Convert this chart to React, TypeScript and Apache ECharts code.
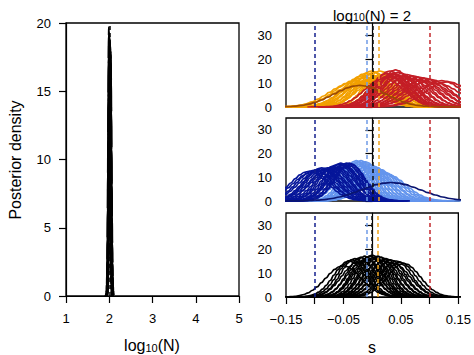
import React, { useEffect, useRef } from 'react';
import * as echarts from 'echarts';

const FONT = '"Liberation Sans", Arial, Helvetica, sans-serif';

// Shared bell profile of a posterior density (offset in sd units, relative height)
const PROFILE_Z = [-4, -3.75, -3.5, -3.25, -3, -2.75, -2.5, -2.25, -2, -1.75, -1.5, -1.25, -1, -0.75, -0.5, -0.25, 0,
  0.25, 0.5, 0.75, 1, 1.25, 1.5, 1.75, 2, 2.25, 2.5, 2.75, 3, 3.25, 3.5, 3.75, 4];
const PROFILE_H = [0.0003, 0.0009, 0.0022, 0.0051, 0.0111, 0.0228, 0.0439, 0.0796, 0.1353, 0.2163, 0.3247, 0.4578, 0.6065, 0.7548, 0.8825, 0.9692, 1,
  0.9692, 0.8825, 0.7548, 0.6065, 0.4578, 0.3247, 0.2163, 0.1353, 0.0796, 0.0439, 0.0228, 0.0111, 0.0051, 0.0022, 0.0009, 0.0003];

// Left panel: posterior of log10(N)
const LEFT_CENTERS = [1.99, 1.995, 2.0, 2.005, 2.008, 2.012, 2.015, 2.018, 2.022, 2.026, 2.03, 2.035];
const LEFT_PEAKS = [19.7, 19.3, 18.9, 19.1, 18.5, 18.8, 18.2, 18.6, 17.9, 18.3, 17.7, 17.9];
const TRUE_LOGN = [2];

// Top right: log10(N) = 2
const TOP_ORANGE_CENTERS = [-0.035, -0.03, -0.025, -0.02, -0.018, -0.015, -0.012, -0.01, -0.008, -0.005, -0.002, 0, 0.003, 0.006, 0.01, 0.013, 0.017, 0.02, 0.025, 0.03];
const TOP_ORANGE_PEAKS = [10, 11, 9.5, 12, 13, 10.5, 14, 12.5, 11, 13.5, 15, 12, 14.5, 13, 11.5, 15, 13.5, 12, 14, 12.5];
const TOP_RED_CENTERS = [0.02, 0.025, 0.028, 0.03, 0.033, 0.035, 0.038, 0.04, 0.043, 0.045, 0.048, 0.05, 0.055, 0.06, 0.065, 0.07, 0.075, 0.08, 0.085, 0.09, 0.095, 0.1, 0.11, 0.12, 0.13];
const TOP_RED_PEAKS = [12, 14, 13, 15, 12.5, 14, 13.5, 15.5, 12, 14.5, 13, 14, 12.5, 13.5, 12, 13, 11.5, 12.5, 11, 12, 10.5, 11.5, 10, 11, 10.5];
const TOP_DARK_CENTERS = [-0.022];
const TOP_DARK_PEAKS = [9];

// Middle right
const MID_LIGHT_CENTERS = [-0.035, -0.03, -0.028, -0.025, -0.022, -0.02, -0.018, -0.015, -0.012, -0.01, -0.008, -0.005, -0.002, 0, 0.003, 0.006, 0.01, 0.014, 0.018, 0.022];
const MID_LIGHT_PEAKS = [15, 16, 17, 16.5, 15.5, 17, 16, 15, 16.5, 14.5, 15.5, 14, 15, 13.5, 14.5, 13, 13.5, 12.5, 12, 11.5];
const MID_NAVY_CENTERS = [-0.11, -0.105, -0.1, -0.095, -0.09, -0.088, -0.085, -0.08, -0.078, -0.075, -0.07, -0.068, -0.065, -0.06, -0.058, -0.055, -0.052, -0.05, -0.048, -0.045, -0.042, -0.04, -0.038];
const MID_NAVY_PEAKS = [12.5, 12, 13, 12.5, 13.5, 14, 13, 12.5, 14, 13, 13.5, 14.5, 15, 14, 15.5, 16, 15, 15.5, 14.5, 16, 15, 16, 15.5];
const MID_DARK_CENTERS = [0.032];
const MID_DARK_PEAKS = [7.8];

// Bottom right
const BOT_CENTERS = [-0.05, -0.04, -0.035, -0.03, -0.025, -0.02, -0.017, -0.013, -0.01, -0.007, -0.004, 0, 0.003, 0.006, 0.01, 0.013, 0.016, 0.02, 0.024, 0.028, 0.032, 0.037, 0.042, 0.048, 0.055];
const BOT_PEAKS = [13, 15, 15.5, 16, 14.5, 16.5, 15, 17, 16, 15.5, 17, 17.5, 16.5, 16, 17, 15.5, 16.5, 15, 16, 14.5, 15.5, 14, 15, 14.5, 14];

const TRUE_S = [-0.1, -0.01, 0, 0.01, 0.1];
const TRUE_S_COLORS = ['#14208f', '#6f9be6', '#111111', '#f0a21a', '#c2282e'];

const LEFT_X_TICKS = [1, 2, 3, 4, 5];
const LEFT_Y_TICKS = [0, 5, 10, 15, 20];
const RIGHT_Y_TICKS = [0, 10, 20, 30];
const S_TICKS = [-0.15, -0.1, -0.05, 0, 0.05, 0.1, 0.15];
const S_LABELS = [-0.15, -0.05, 0.05, 0.15];

const C_ORANGE = '#f2a000';
const C_RED = '#c41e26';
const C_DARKORANGE = '#9a4a06';
const C_LIGHT = '#6495ed';
const C_NAVY = '#06169a';
const C_DARKNAVY = '#0a1570';
const C_BLACK = '#000000';

function curve(center: number, peak: number) {
  const sd = 1 / (peak * Math.sqrt(2 * Math.PI));
  return PROFILE_Z.map((z, i) => [center + z * sd, peak * PROFILE_H[i]]);
}

function group(centers: number[], peaks: number[], color: string, gi: number, width = 1.7) {
  return centers.map((c, i) => ({
    type: 'line',
    xAxisIndex: gi,
    yAxisIndex: gi,
    data: curve(c, peaks[i]),
    symbol: 'none',
    showSymbol: false,
    smooth: true,
    smoothMonotone: 'x',
    silent: true,
    z: 3,
    lineStyle: { color, width },
  }));
}

function dashSeries(gi: number, vals: number[], colors: string[]) {
  return {
    type: 'line',
    xAxisIndex: gi,
    yAxisIndex: gi,
    data: [],
    silent: true,
    z: 2,
    markLine: {
      silent: true,
      symbol: 'none',
      label: { show: false },
      animation: false,
      lineStyle: { type: [4, 3], width: 1.5 },
      data: vals.map((v, i) => ({ xAxis: v, lineStyle: { color: colors[i], type: [4, 3], width: 1.5 } })),
    },
  };
}

const fmtS = (v: number) => {
  const a = Math.abs(v).toFixed(2);
  return (v < -1e-9 ? '\u2212' : '') + a;
};

const axisLineStyle = { show: true, lineStyle: { color: '#000', width: 1.2 } };
const tickStyle = { lineStyle: { color: '#000', width: 1.2 } };

export default function App() {
  const ref = useRef<HTMLDivElement>(null);
  useEffect(() => {
    if (!ref.current) return;
    const chart = echarts.init(ref.current, undefined, { renderer: 'svg' });
    const gridBase = { show: true, borderColor: '#000', borderWidth: 1.3, backgroundColor: '#fff', containLabel: false };
    const grids = [
      { ...gridBase, left: 66, top: 23, width: 173, height: 273 },
      { ...gridBase, left: 286, top: 23, width: 173, height: 84 },
      { ...gridBase, left: 286, top: 118, width: 173, height: 83 },
      { ...gridBase, left: 286, top: 213, width: 173, height: 84 },
    ];
    const labelBase = { color: '#000', fontFamily: FONT, fontSize: 13 };
    const xAxes: any[] = [
      {
        type: 'value', gridIndex: 0, min: 1, max: 5, interval: 1,
        axisLine: axisLineStyle, splitLine: { show: false },
        axisTick: { show: true, length: 7, inside: false, customValues: LEFT_X_TICKS, ...tickStyle },
        axisLabel: { ...labelBase, margin: 16, customValues: LEFT_X_TICKS },
      },
      ...[1, 2].map((gi) => ({
        type: 'value', gridIndex: gi, min: -0.15, max: 0.15, interval: 0.05,
        axisLine: { show: false }, splitLine: { show: false },
        axisTick: { show: false }, axisLabel: { show: false },
      })),
      {
        type: 'value', gridIndex: 3, min: -0.15, max: 0.15, interval: 0.05,
        axisLine: axisLineStyle, splitLine: { show: false },
        axisTick: { show: true, length: 7, inside: false, customValues: S_TICKS, ...tickStyle },
        axisLabel: { ...labelBase, margin: 16, customValues: S_LABELS, formatter: (v: number) => fmtS(v) },
      },
    ];
    const yAxes: any[] = [
      {
        type: 'value', gridIndex: 0, min: 0, max: 20, interval: 5,
        axisLine: axisLineStyle, splitLine: { show: false },
        axisTick: { show: true, length: 7, inside: false, customValues: LEFT_Y_TICKS, ...tickStyle },
        axisLabel: { ...labelBase, margin: 15, customValues: LEFT_Y_TICKS },
      },
      ...[1, 2, 3].map((gi) => ({
        type: 'value', gridIndex: gi, min: 0, max: 35, interval: 10,
        axisLine: axisLineStyle, splitLine: { show: false },
        axisTick: { show: true, length: 7, inside: false, customValues: RIGHT_Y_TICKS, ...tickStyle },
        axisLabel: { ...labelBase, margin: 14, customValues: RIGHT_Y_TICKS },
      })),
    ];

    const series: any[] = [
      dashSeries(0, TRUE_LOGN, [C_BLACK]),
      ...group(LEFT_CENTERS, LEFT_PEAKS, C_BLACK, 0, 1.7),
      dashSeries(1, TRUE_S, TRUE_S_COLORS),
      ...group(TOP_ORANGE_CENTERS, TOP_ORANGE_PEAKS, C_ORANGE, 1),
      ...group(TOP_RED_CENTERS, TOP_RED_PEAKS, C_RED, 1),
      ...group(TOP_DARK_CENTERS, TOP_DARK_PEAKS, C_DARKORANGE, 1),
      dashSeries(2, TRUE_S, TRUE_S_COLORS),
      ...group(MID_LIGHT_CENTERS, MID_LIGHT_PEAKS, C_LIGHT, 2),
      ...group(MID_NAVY_CENTERS, MID_NAVY_PEAKS, C_NAVY, 2),
      ...group(MID_DARK_CENTERS, MID_DARK_PEAKS, C_DARKNAVY, 2),
      dashSeries(3, TRUE_S, TRUE_S_COLORS),
      ...group(BOT_CENTERS, BOT_PEAKS, C_BLACK, 3),
    ];

    const richLog = (main: number, sub: number) => ({
      a: { fontSize: main, fontFamily: FONT, color: '#000', lineHeight: main + 4, verticalAlign: 'bottom' },
      b: { fontSize: sub, fontFamily: FONT, color: '#000', lineHeight: sub, verticalAlign: 'bottom' },
    });

    chart.setOption({
      animation: false,
      backgroundColor: '#fff',
      grid: grids,
      xAxis: xAxes,
      yAxis: yAxes,
      series,
      graphic: [
        {
          type: 'text', x: 15, y: 160, rotation: Math.PI / 2,
          style: { text: 'Posterior density', fontSize: 16, fontFamily: FONT, fill: '#000', align: 'center', verticalAlign: 'middle' },
        },
        {
          type: 'text', x: 152, y: 343,
          style: { text: '{a|log}{b|10}{a|(N)}', rich: richLog(16, 11), align: 'center', verticalAlign: 'middle' },
        },
        {
          type: 'text', x: 372, y: 347,
          style: { text: 's', fontSize: 16, fontFamily: FONT, fill: '#000', align: 'center', verticalAlign: 'middle' },
        },
        {
          type: 'text', x: 372, y: 13,
          style: { text: '{a|log}{b|10}{a|(N) = 2}', rich: richLog(15, 10.5), align: 'center', verticalAlign: 'middle' },
        },
      ],
    });
    return () => chart.dispose();
  }, []);
  return <div ref={ref} style={{ position: 'fixed', left: 0, top: 0, width: 474, height: 355, background: '#fff' }} />;
}
